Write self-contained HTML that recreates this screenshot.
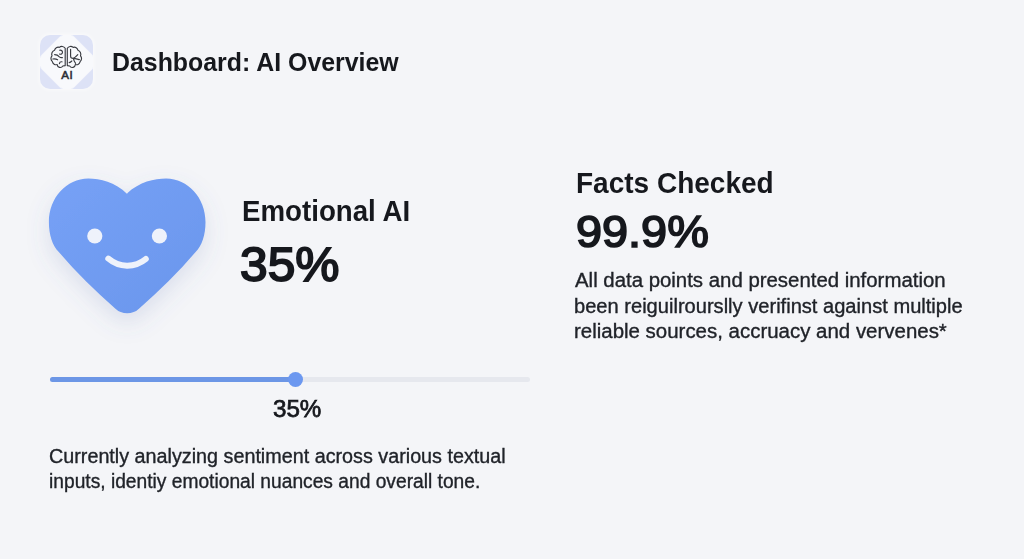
<!DOCTYPE html>
<html><head><meta charset="utf-8">
<style>
html,body{margin:0;padding:0;}
body{width:1024px;height:559px;overflow:hidden;background:#f4f5f8;font-family:"Liberation Sans",sans-serif;position:relative;color:#16181d;}
.abs{position:absolute;white-space:nowrap;}
#icon{position:absolute;left:40px;top:35px;width:53px;height:53.5px;border-radius:10px;background:#dde2f6;overflow:hidden;box-shadow:0 0 4px 1px rgba(255,255,255,0.6);}
#icon .dia{position:absolute;left:3.5px;top:3.75px;width:46px;height:46px;border-radius:10px;background:#f8f9fc;transform:rotate(45deg);filter:blur(0.7px);}
#title{left:112.2px;top:49.1px;font-size:26.23px;transform:scaleX(0.949);}
#emo{left:241.95px;top:196.3px;font-size:29.86px;transform:scaleX(0.9271);}
#pct{left:240.2px;top:240.3px;font-size:48.8px;transform:scaleX(1.018);font-weight:400!important;-webkit-text-stroke:1.9px #16181d;}
#facts{left:575.57px;top:169.1px;font-size:29px;transform:scaleX(0.9657);}
#pct2{left:576px;top:208.6px;font-size:45px;transform:scaleX(1.041);font-weight:400!important;-webkit-text-stroke:1.7px #16181d;}
#pct3{left:272.59px;top:397px;font-size:24px;transform:scaleX(1.0064);font-weight:400!important;-webkit-text-stroke:0.75px #16181d;}
.h{position:absolute;white-space:nowrap;font-weight:700;line-height:1;transform-origin:0 0;color:#16181d;}
.ln{position:absolute;white-space:nowrap;font-size:20px;line-height:1;transform-origin:0 0;color:#202329;-webkit-text-stroke:0.35px #202329;}
#track{position:absolute;left:50px;top:377.2px;width:480px;height:4.4px;border-radius:3px;background:#e6e8ee;}
#fill{position:absolute;left:50px;top:377px;width:246px;height:4.8px;border-radius:3px;background:#6c96e6;}
#knob{position:absolute;left:288px;top:371.5px;width:15.4px;height:15.4px;border-radius:50%;background:#6c98f0;}
</style></head>
<body>
<div id="icon"><div class="dia"></div>
<svg width="53" height="54" style="position:absolute;left:0;top:0" viewBox="0 0 53 54">
<g fill="none" stroke="#3a3c42" stroke-width="1.15" stroke-linecap="round" stroke-linejoin="round">
<path d="M25.20 30.6 L25.20 13.2 A4.0 4.0 0 0 0 19.30 12.40 A3.6 3.6 0 0 0 14.60 15.20 A4.2 4.2 0 0 0 12.00 20.80 A4.0 4.0 0 0 0 12.40 26.60 A3.8 3.8 0 0 0 17.20 29.60 A3.0 3.0 0 0 0 22.80 31.00 L25.20 30.6"/>
<path d="M27.30 30.6 L27.30 13.2 A4.0 4.0 0 0 1 33.20 12.40 A3.6 3.6 0 0 1 37.90 15.20 A4.2 4.2 0 0 1 40.50 20.80 A4.0 4.0 0 0 1 40.10 26.60 A3.8 3.8 0 0 1 35.30 29.60 A3.0 3.0 0 0 1 29.70 31.00 L27.30 30.6"/>
<path d="M19.6 15.2 C21.6 14.8 22.8 16.2 22.4 17.8 C22 19.2 20.6 19.6 19.6 19 M14.6 19.6 C16.6 19.6 18.2 20.4 19.4 21.8 C20.2 22.6 21.2 22.8 22.4 22.6 M12.8 24 C14.8 23.8 16.4 24 17.6 24.8 M19.4 28.6 C19.6 27.4 20.8 26.6 22 26.8"/>
<path d="M30.6 14.2 L30.6 21.2 C30.6 22.6 31.6 23.4 33.2 23.4 M33.2 23.4 C35 22.6 36.4 21.2 37.8 19.6 M33.2 23.4 C35.4 23.6 37.6 24.2 39.4 24.6 M33.4 23.6 C33.8 25.4 34.6 27 35.6 28.4 M31.8 26 C31 26.8 30.2 27.4 29.2 27.6"/>
</g>
<text x="27.3" y="43.9" text-anchor="middle" font-family="Liberation Sans" font-weight="400" font-size="11.6" letter-spacing="0.6" fill="#2c2e34" stroke="#2c2e34" stroke-width="0.55">AI</text>
</svg>
</div>
<div id="title" class="h">Dashboard: AI Overview</div>

<svg style="position:absolute;left:0;top:0" width="260" height="360" viewBox="0 0 260 360">
<defs>
<linearGradient id="hg" x1="0" y1="0" x2="1" y2="1"><stop offset="0" stop-color="#76a1f6"/><stop offset="1" stop-color="#6a96ec"/></linearGradient>
<filter id="sh" x="-50%" y="-50%" width="200%" height="200%">
<feGaussianBlur in="SourceAlpha" stdDeviation="11"/>
<feOffset dx="0" dy="9" result="b"/>
<feFlood flood-color="#5a70b0" flood-opacity="0.17"/>
<feComposite in2="b" operator="in"/>
<feMerge><feMergeNode/><feMergeNode in="SourceGraphic"/></feMerge>
</filter>
</defs>
<path filter="url(#sh)" fill="url(#hg)" d="M127.20 194.00 C115.00 182.00, 100.00 178.60, 88.30 178.60 C66.50 178.60, 48.90 198.00, 48.90 222.00 C48.90 235.00, 52.50 245.70, 58.80 252.00 C76.20 272.20, 95.00 291.00, 115.18 308.38 A17 17 0 0 0 139.22 308.38 C159.40 291.00, 178.20 272.20, 195.60 252.00 C201.90 245.70, 205.50 235.00, 205.50 222.00 C205.50 198.00, 187.90 178.60, 166.10 178.60 C154.40 178.60, 139.40 182.00, 127.20 193.30 Z"/>
<circle cx="94.8" cy="236" r="7.6" fill="#eef2fb"/>
<circle cx="159.4" cy="236" r="7.6" fill="#eef2fb"/>
<path d="M108.3 258.6 A29 29 0 0 0 145.8 259" fill="none" stroke="#eef2fb" stroke-width="6" stroke-linecap="round"/>
</svg>

<div id="emo" class="h">Emotional AI</div>
<div id="pct" class="h">35%</div>

<div id="track"></div><div id="fill"></div><div id="knob"></div>
<div id="pct3" class="h">35%</div>
<div id="l1" class="ln" style="left:49px;top:445.7px;transform:scaleX(0.9875)">Currently analyzing sentiment across various textual</div>
<div id="l2" class="ln" style="left:49px;top:471.2px;transform:scaleX(0.9602)">inputs, identiy emotional nuances and overall tone.</div>

<div id="facts" class="h">Facts Checked</div>
<div id="pct2" class="h">99.9%</div>
<div id="r1" class="ln" style="left:575px;top:270.2px;transform:scaleX(1.0193)">All data points and presented information</div>
<div id="r2" class="ln" style="left:574px;top:296px;transform:scaleX(1.0046)">been reiguilrourslly verifinst against multiple</div>
<div id="r3" class="ln" style="left:574px;top:321px;transform:scaleX(1.0225)">reliable sources, accruacy and vervenes*</div>
</body></html>
